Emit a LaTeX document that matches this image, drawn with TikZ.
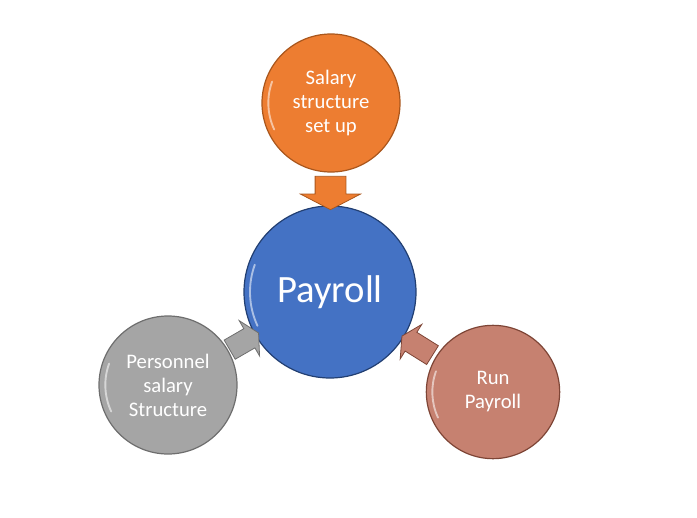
\documentclass[tikz,border=0pt]{standalone}
\usepackage{fontspec}
\setmainfont{Carlito}
\usepackage{tikz}
\usetikzlibrary{arrows.meta,positioning,calc,shapes.arrows}
\usepackage{xcolor}
\definecolor{orng}{HTML}{ED7D31}
\definecolor{orngD}{HTML}{A9561C}
\definecolor{blu}{HTML}{4472C4}
\definecolor{bluD}{HTML}{223F72}
\definecolor{gry}{HTML}{A5A5A5}
\definecolor{gryD}{HTML}{6E6E6E}
\definecolor{brn}{HTML}{C68170}
\definecolor{brnD}{HTML}{7E4536}
\tikzset{
  bub/.style={circle,draw=#1D,fill=#1,line width=0.9pt,text=white,align=center,
    inner sep=0pt,font=\fontsize{15.5}{18}\selectfont},
  blk/.style={single arrow,draw=#1D,fill=#1,line width=0.6pt,inner xsep=0pt,
    single arrow head indent=0pt,single arrow tip angle=125},
  gleam/.style={white,opacity=0.55,line width=1.4pt,line cap=round},
}
\begin{document}
\begin{tikzpicture}[x=0.75pt,y=-0.75pt]
\useasboundingbox (0,0) rectangle (697,518);
% the four circles
\node[bub=blu,minimum size=129pt,font=\fontsize{29}{32}\selectfont] (pay) at (330,292) {Payroll};
\node[bub=orng,minimum size=103.5pt] (setup) at (331,103) {Salary\\structure\\set up};
\node[bub=gry,minimum size=103.5pt] (pers) at (168,385) {Personnel\\salary\\Structure};
\node[bub=brn,minimum size=100pt] (run) at (493,392) {Run\\Payroll};
% soft highlight on the left rim
\draw[gleam] ($(pay.center)+(160:60pt)$) arc[start angle=160,end angle=205,radius=60pt];
\draw[gleam] ($(setup.center)+(160:47pt)$) arc[start angle=160,end angle=205,radius=47pt];
\draw[gleam] ($(pers.center)+(160:47pt)$) arc[start angle=160,end angle=205,radius=47pt];
\draw[gleam] ($(run.center)+(160:45.5pt)$) arc[start angle=160,end angle=205,radius=45.5pt];
% block arrows into Payroll
\node[blk=orng,inner ysep=11.25pt,minimum height=25pt,single arrow head extend=11pt,
  rotate=-90] (arrTop) at ($(setup.south)!0.5!(pay.north)$) {};
\node[blk=gry,inner ysep=8pt,minimum height=25pt,single arrow head extend=7pt,
  rotate=30] (arrLeft) at ($(pers.30)!0.5!(pay.210)$) {};
\node[blk=brn,inner ysep=8pt,minimum height=27pt,single arrow head extend=7pt,
  rotate=148] (arrRight) at ($(run.148)!0.5!(pay.328)$) {};
\end{tikzpicture}
\end{document}
